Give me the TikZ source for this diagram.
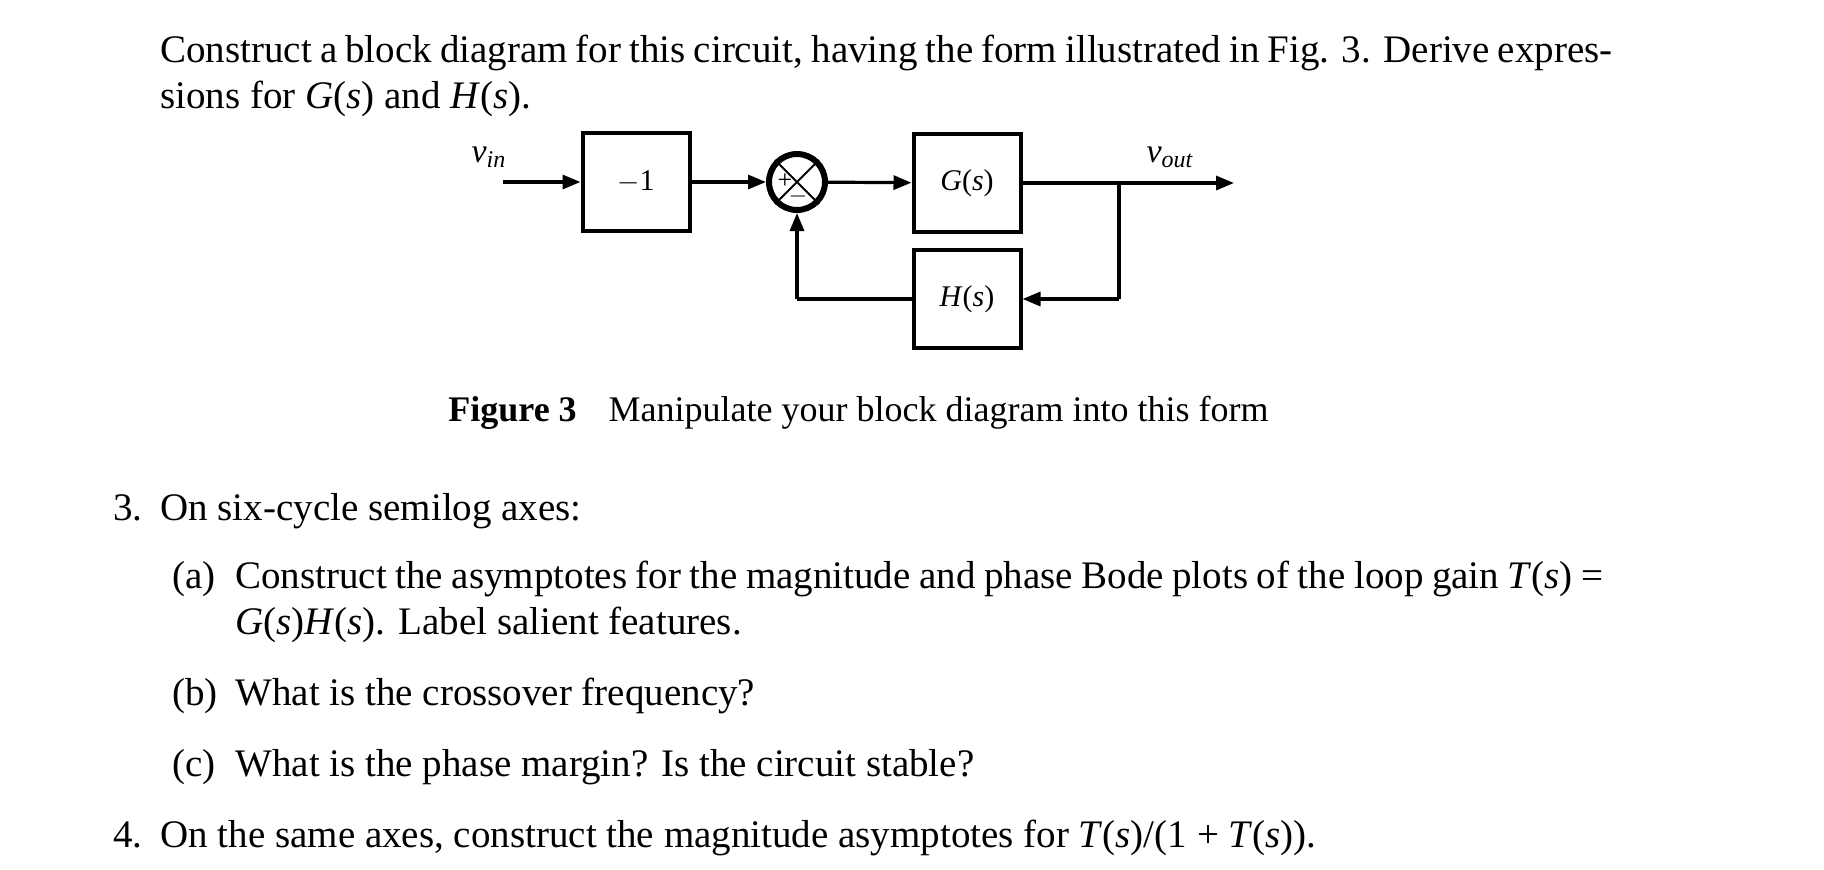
\documentclass[tikz,border=0pt]{standalone}
\usepackage{fontspec}
\setmainfont{Liberation Serif}
\usetikzlibrary{arrows.meta}
\begin{document}
\begin{tikzpicture}[x=0.5pt,y=-0.5pt,
  txt/.style={anchor=base west,inner sep=0pt,font=\fontsize{19.5}{23}\selectfont},
  blk/.style={draw,line width=2pt,minimum width=53.5pt,minimum height=49pt,inner sep=0pt,font=\fontsize{15}{18}\selectfont},
  sig/.style={line width=1.6pt,-{Triangle[length=9pt,width=7pt]}},
  wire/.style={line width=1.6pt}]
\useasboundingbox (0,0) rectangle (1824,869);
% problem text
\node[txt] (l1) at (160,62) {\makebox[726pt][s]{Construct a block diagram for this circuit, having the form illustrated in Fig. 3. Derive expres-}};
\node[txt] (l2) at (160,108) {sions for \textit{G}(\textit{s}) and \textit{H}(\textit{s}).};
% block diagram
\coordinate (vin) at (503,182);
\node[blk] (k) at (636,182) {$-$1};
\node[draw,circle,line width=3pt,minimum size=28pt,inner sep=0pt] (sum) at (797,182) {};
\draw[line width=1pt] (sum.north west) -- (sum.south east) (sum.north east) -- (sum.south west);
\node[font=\fontsize{13}{13}\selectfont,inner sep=0pt] (plus) at (785,181) {+};
\node[font=\fontsize{13}{13}\selectfont,inner sep=0pt] (minus) at (798,196) {$-$};
\node[blk] (G) at (967,183) {\textit{G}(\textit{s})};
\node[blk] (H) at (967,299) {\textit{H}(\textit{s})};
\coordinate (br) at (1119,183);
\coordinate (vout) at (1234,183);
\coordinate (fb) at (797,299);
\coordinate (fr) at (1119,299);
\node[font=\fontsize{17}{17}\selectfont\itshape,inner sep=0pt] (vinl) at (489,157) {v\textsubscript{\fontsize{12}{12}\selectfont in}};
\node[font=\fontsize{17}{17}\selectfont\itshape,inner sep=0pt] (voutl) at (1170,157) {v\textsubscript{\fontsize{12}{12}\selectfont out}};
\draw[sig] (vin) -- (k);
\draw[sig] (k) -- (sum);
\draw[sig] (sum) -- (G);
\draw[sig] (G) -- (vout);
\draw[wire] (br) -- (fr);
\draw[sig] (fr) -- (H);
\draw[wire] (H) -- (fb);
\draw[sig] (fb) -- (sum);
\node[txt,font=\fontsize{18}{22}\selectfont] (cap) at (448,421) {\textbf{Figure 3}\hspace{16pt}Manipulate your block diagram into this form};
% questions
\node[txt] (q3n) at (113,520) {3.};
\node[txt] (q3) at (160,520) {On six-cycle semilog axes:};
\node[txt] (qan) at (172,588) {(a)};
\node[txt] (qa1) at (235,588) {\makebox[684pt][s]{Construct the asymptotes for the magnitude and phase Bode plots of the loop gain \textit{T}(\textit{s}) =}};
\node[txt] (qa2) at (235,634) {\textit{G}(\textit{s})\textit{H}(\textit{s}). Label salient features.};
\node[txt] (qbn) at (172,705) {(b)};
\node[txt] (qb) at (235,705) {What is the crossover frequency?};
\node[txt] (qcn) at (172,776) {(c)};
\node[txt] (qc) at (235,776) {What is the phase margin? Is the circuit stable?};
\node[txt] (q4n) at (113,847) {4.};
\node[txt] (q4) at (160,847) {On the same axes, construct the magnitude asymptotes for \textit{T}(\textit{s})/(1 + \textit{T}(\textit{s})).};
\end{tikzpicture}
\end{document}
